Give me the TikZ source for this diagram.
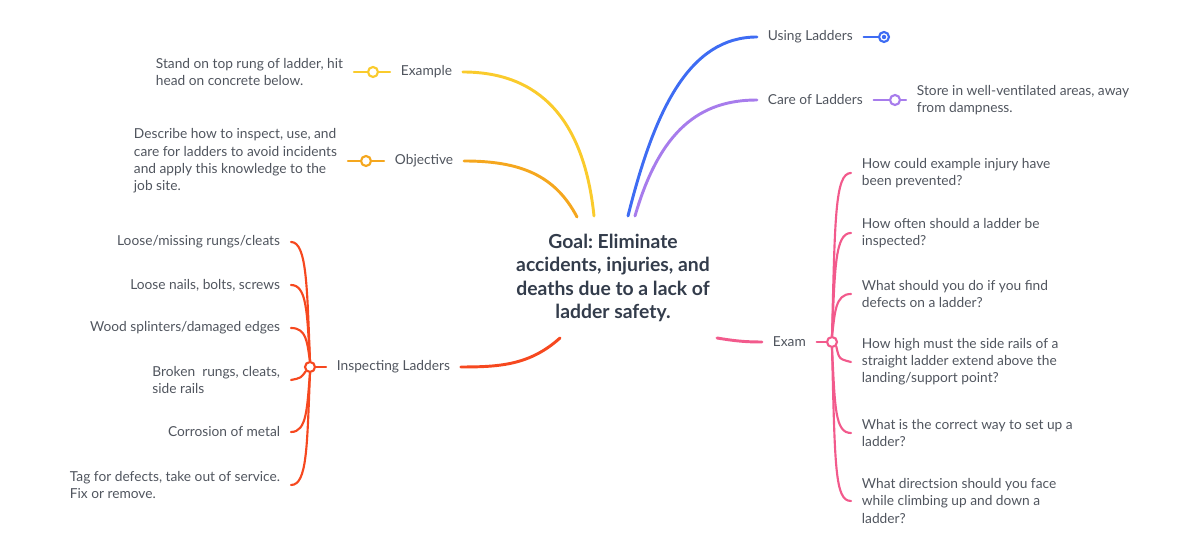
\documentclass[tikz,border=0pt]{standalone}
\usepackage{fontspec}
\setmainfont{Lato}
\frenchspacing
\usetikzlibrary{calc}
\definecolor{exyellow}{HTML}{FACB2C}
\definecolor{objorange}{HTML}{F5A71E}
\definecolor{useblue}{HTML}{3E6CF3}
\definecolor{carepurple}{HTML}{A77CEC}
\definecolor{insred}{HTML}{F6481F}
\definecolor{exampink}{HTML}{F25A8C}
\definecolor{leafgray}{HTML}{50555E}
\definecolor{goalgray}{HTML}{333C4B}
\tikzset{x=0.75pt, y=0.75pt,
    every node/.append style={font=\fontsize{10.3}{12.9}\selectfont, text=leafgray},
    topic/.style={inner xsep=8pt, inner ysep=0pt, align=left},
    goalbox/.style={inner sep=0pt, align=center, text=goalgray,
        font=\fontsize{14.5}{17.5}\selectfont\bfseries},
    knob/.style={circle, draw=#1, fill=white, line width=1.6pt, minimum size=7.5pt, inner sep=0pt},
    bigline/.style={draw=#1, line width=2.2pt, line cap=round},
    twig/.style={draw=#1, line width=1.6pt, line cap=round}
}
\begin{document}
\begin{tikzpicture}
    \useasboundingbox (0,0) rectangle (1197,548);
    \node[goalbox] (goal) at (613,270) {Goal: Eliminate\\accidents, injuries, and\\deaths due to a lack of\\ladder safety.};
    \node[topic, anchor=west] (example) at (390,476) {Example};
    \node[topic, anchor=west] (objective) at (384,387) {Objective};
    \node[topic, anchor=west] (using) at (757,511) {Using Ladders};
    \node[topic, anchor=west] (care) at (757,448) {Care of Ladders};
    \node[topic, anchor=west] (inspecting) at (326,181) {Inspecting Ladders};
    \node[topic, anchor=west] (exam) at (762,206) {Exam};
    \node[knob=exyellow] (exk) at (373,476) {};
    \node[knob=objorange] (objk) at (366,387) {};
    \node[knob=useblue] (usek) at (884,511) {};
    \node[knob=carepurple] (carek) at (895,448) {};
    \node[knob=insred] (insk) at (310,181) {};
    \node[knob=exampink] (examk) at (832,206) {};
    \fill[useblue] (usek.center) circle (2.2);
    \node[topic, anchor=east] (exdesc) at (354,476) {Stand on top rung of ladder, hit\\head on concrete below.};
    \node[topic, anchor=east] (objdesc) at (348,387) {Describe how to inspect, use, and\\care for ladders to avoid incidents\\and apply this knowledge to the\\job site.};
    \node[topic, anchor=west] (caredesc) at (906,448) {Store in well-ventilated areas, away\\from dampness.};
    \node[topic, anchor=east] (ins1) at (291,306) {Loose/missing rungs/cleats};
    \node[topic, anchor=east] (ins2) at (291,263) {Loose nails, bolts, screws};
    \node[topic, anchor=east] (ins3) at (291,220) {Wood splinters/damaged edges};
    \node[topic, anchor=east] (ins4) at (291,168) {Broken\ \ rungs, cleats,\\side rails};
    \node[topic, anchor=east] (ins5) at (291,116) {Corrosion of metal};
    \node[topic, anchor=east] (ins6) at (291,63) {Tag for defects, take out of service.\\Fix or remove.};
    \node[topic, anchor=west] (q1) at (851,375) {How could example injury have\\been prevented?};
    \node[topic, anchor=west] (q2) at (851,315) {How often should a ladder be\\inspected?};
    \node[topic, anchor=west] (q3) at (851,254) {What should you do if you find\\defects on a ladder?};
    \node[topic, anchor=west] (q4) at (851,186) {How high must the side rails of a\\straight ladder extend above the\\landing/support point?};
    \node[topic, anchor=west] (q5) at (851,115) {What is the correct way to set up a\\ladder?};
    \node[topic, anchor=west] (q6) at (851,47) {What directsion should you face\\while climbing up and down a\\ladder?};
    \draw[bigline=exyellow] ($(goal.center)+(-19,62)$) .. controls (584,428) and (540,476) .. (example.east);
    \draw[bigline=objorange] ($(goal.center)+(-36,61)$) .. controls (555,373) and (520,387) .. (objective.east);
    \draw[bigline=useblue] ($(goal.center)+(15,62)$) .. controls (655,440) and (690,511) .. (using.west);
    \draw[bigline=carepurple] ($(goal.center)+(22,62)$) .. controls (660,418) and (700,448) .. (care.west);
    \draw[bigline=insred] ($(goal.center)+(-53,-60)$) .. controls (530,183) and (500,181) .. (inspecting.east);
    \draw[bigline=exampink] ($(goal.center)+(104,-60)$) .. controls (735,207) and (745,206) .. (exam.west);
    \draw[twig=exyellow] (example.west) -- (exk.east) (exk.west) -- (exdesc.east);
    \draw[twig=objorange] (objective.west) -- (objk.east) (objk.west) -- (objdesc.east);
    \draw[twig=useblue] (using.east) -- (usek.west);
    \draw[twig=carepurple] (care.east) -- (carek.west) (carek.east) -- (caredesc.west);
    \draw[twig=insred] (inspecting.west) -- (insk.east);
    \draw[twig=exampink] (exam.east) -- (examk.west);
    \draw[twig=insred] (insk.north) .. controls (307,260) and (307,306) .. (ins1.east);
    \draw[twig=insred] (insk.north) .. controls (307,235) and (307,263) .. (ins2.east);
    \draw[twig=insred] (insk.north) .. controls (307,205) and (307,220) .. (ins3.east);
    \draw[twig=insred] (insk.south west) .. controls (301,170) .. (ins4.east);
    \draw[twig=insred] (insk.south) .. controls (307,140) and (307,116) .. (ins5.east);
    \draw[twig=insred] (insk.south) .. controls (307,100) and (307,63) .. (ins6.east);
    \draw[twig=exampink] (examk.north) .. controls (835,330) and (835,375) .. (q1.west);
    \draw[twig=exampink] (examk.north) .. controls (835,280) and (835,315) .. (q2.west);
    \draw[twig=exampink] (examk.north) .. controls (835,235) and (835,254) .. (q3.west);
    \draw[twig=exampink] (examk.south east) .. controls (839,189) .. (q4.west);
    \draw[twig=exampink] (examk.south) .. controls (835,140) and (835,115) .. (q5.west);
    \draw[twig=exampink] (examk.south) .. controls (835,80) and (835,47) .. (q6.west);
\end{tikzpicture}
\end{document}
